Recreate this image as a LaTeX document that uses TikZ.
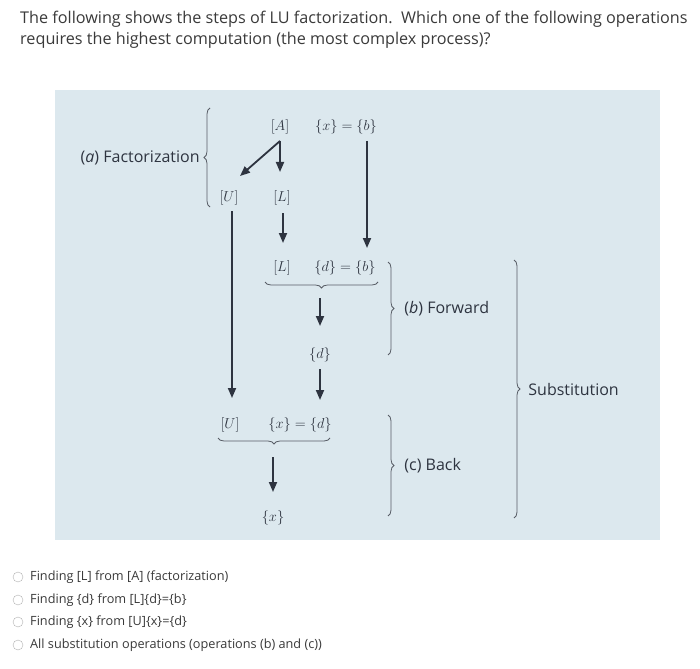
\documentclass[tikz,border=0pt]{standalone}
\usepackage{fontspec}
\setsansfont{Open Sans}
\usetikzlibrary{decorations.pathreplacing,arrows.meta}
\definecolor{panel}{HTML}{DCE8EE}
\definecolor{ink}{HTML}{2E3440}
\definecolor{qtext}{HTML}{3A3A3A}
\tikzset{
 m/.style={font=\fontsize{15}{16}\selectfont, text=ink, inner sep=1pt},
 lab/.style={font=\sffamily\fontsize{16}{17}\selectfont, text=ink, anchor=west, inner sep=0pt},
 arr/.style={-{Triangle[length=10pt,width=8pt]}, line width=1.8pt, draw=ink},
 brc/.style={decorate, decoration={brace, amplitude=6pt}, draw=ink!80, line width=0.8pt},
 opt/.style={font=\sffamily\fontsize{12.7}{13}\selectfont, text=qtext, anchor=west, inner sep=0pt},
 rad/.style={circle, draw=gray!60, fill=white, minimum size=10pt, inner sep=0pt}
}
\begin{document}
\begin{tikzpicture}[x=1pt,y=-1pt]
\useasboundingbox (0,0) rectangle (700,668);
\fill[white] (0,0) rectangle (700,668);
\node[opt, font=\sffamily\fontsize{16.2}{17}\selectfont] (q1) at (20,19) {The following shows the steps of LU factorization.\ \ Which one of the following operations};
\node[opt, font=\sffamily\fontsize{16.2}{17}\selectfont] (q2) at (20,40) {requires the highest computation (the most complex process)?};
\fill[panel] (55,90) rectangle (660,540);
% nodes
\node[m] (A) at (280,127) {$[A]$};
\node[m] (xb) at (346,127) {$\{x\}=\{b\}$};
\node[m] (U1) at (229,198) {$[U]$};
\node[m] (L1) at (282,198) {$[L]$};
\node[m] (L2) at (282,268) {$[L]$};
\node[m] (db) at (345,268) {$\{d\}=\{b\}$};
\node[m] (d) at (320,355) {$\{d\}$};
\node[m] (U2) at (230,425) {$[U]$};
\node[m] (xd) at (300,425) {$\{x\}=\{d\}$};
\node[m] (x) at (273,518) {$\{x\}$};
\coordinate (Atop) at (280,141);
\coordinate (Uend) at (240,176);
\coordinate (Lend) at (280,172);
\coordinate (xbs) at (367,141);
\coordinate (xbe) at (367,248);
\coordinate (Us) at (232,211);
\coordinate (Ue) at (232,398);
\coordinate (Ls) at (283,213);
\coordinate (Le) at (283,243);
\coordinate (fb) at (320,298);
\coordinate (fe) at (320,326);
\coordinate (ds) at (320,369);
\coordinate (de) at (320,400);
\coordinate (bs) at (273,457);
\coordinate (be) at (273,492);
\draw[arr] (Atop) -- (Uend);
\draw[arr] (Atop) -- (Lend);
\draw[arr] (xbs) -- (xbe);
\draw[arr] (Us) -- (Ue);
\draw[arr] (Ls) -- (Le);
\draw[arr] (fb) -- (fe);
\draw[arr] (ds) -- (de);
\draw[arr] (bs) -- (be);
% braces
\draw[brc] (210,207) -- (210,108) node[midway, xshift=-10pt, lab, anchor=east] (fa) {(\textit{a}) Factorization};
\draw[brc] (378,282) -- (265,282);
\draw[brc] (330,438) -- (218,438);
\draw[brc] (388,262) -- (388,355) node[midway, xshift=16pt, lab] (fw) {(\textit{b}) Forward};
\draw[brc] (388,415) -- (388,516) node[midway, xshift=16pt, lab] (bk) {(c) Back};
\draw[brc] (514,260) -- (514,518) node[midway, xshift=14pt, lab] (sub) {Substitution};
% options
\foreach \yy/\t [count=\i] in {577/{Finding [L] from [A] (factorization)}, 600/{Finding \{d\} from [L]\{d\}=\{b\}}, 622/{Finding \{x\} from [U]\{x\}=\{d\}}, 645/{All substitution operations (operations (b) and (c))}}{
 \node[rad] (r\i) at (18,\yy) {};
 \node[opt] (o\i) at (30,\yy) {\t};
}
\end{tikzpicture}
\end{document}
